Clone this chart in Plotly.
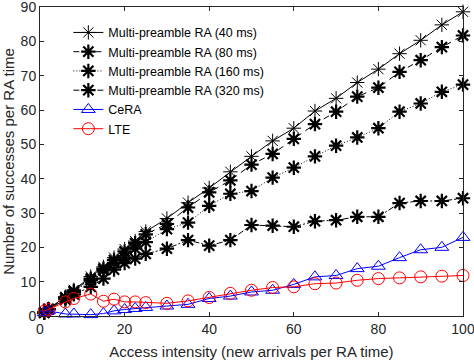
import plotly.graph_objects as go

x = [1, 2, 6, 8, 12, 15, 17.5, 20, 22.5, 25, 30, 35, 40, 45, 50, 55, 60, 65, 70, 75, 80, 85, 90, 95, 100]

ms40 = [1.0, 2.1, 5.6, 7.6, 11.5, 14.3, 17.0, 19.5, 21.8, 24.6, 28.4, 33.0, 37.3, 42.0, 46.5, 51.0, 54.7, 59.7, 63.4, 68.0, 71.9, 76.4, 80.3, 84.8, 88.6]
ms80 = [1.0, 2.0, 5.4, 7.3, 10.9, 13.8, 16.3, 18.8, 21.2, 23.8, 26.8, 31.6, 36.0, 39.5, 44.1, 47.2, 51.6, 55.9, 59.5, 63.9, 66.5, 71.1, 74.5, 78.3, 81.7]
ms160 = [1.0, 2.0, 5.2, 7.0, 10.4, 13.3, 15.4, 17.1, 19.6, 21.5, 25.3, 27.2, 32.1, 35.6, 36.4, 40.3, 43.2, 46.5, 49.6, 52.0, 54.7, 59.5, 61.9, 65.3, 67.4]
ms320 = [1.0, 1.9, 4.8, 6.3, 8.5, 10.9, 13.5, 15.4, 16.7, 18.1, 19.6, 22.1, 20.5, 22.1, 26.5, 26.3, 26.0, 27.6, 27.9, 28.9, 28.9, 32.9, 33.5, 33.5, 34.3]
cera = [1.0, 1.5, 0.6, 0.6, 0.4, 0.7, 1.5, 1.9, 2.2, 2.5, 2.9, 3.4, 5.1, 5.8, 7.0, 7.5, 9.2, 11.4, 11.8, 13.8, 14.5, 17.0, 19.3, 20.0, 22.9]
lte = [1.4, 1.9, 4.1, 5.1, 6.4, 4.3, 4.9, 4.1, 4.1, 3.9, 3.7, 4.4, 5.4, 6.6, 7.5, 8.3, 8.5, 9.4, 9.6, 10.4, 10.9, 11.1, 11.4, 11.6, 11.8]

names = ["Multi-preamble RA (40 ms)", "Multi-preamble RA (80 ms)",
         "Multi-preamble RA (160 ms)", "Multi-preamble RA (320 ms)", "CeRA", "LTE"]

x_ticks = [0, 20, 40, 60, 80, 100]
y_ticks = [0, 10, 20, 30, 40, 50, 60, 70, 80, 90]

fig = go.Figure()

star_specs = [
    (ms40, "solid", 1.0),
    (ms80, "6px,5px", 2.2),
    (ms160, "1px,2px", 2.2),
    (ms320, "6px,2px,2px,2px", 2.2),
]
for (vals, dash, mlw), nm in zip(star_specs, names[:4]):
    fig.add_trace(go.Scatter(
        x=x, y=vals, name=nm, mode="lines+markers", cliponaxis=False,
        line=dict(color="black", width=1, dash=dash),
        marker=dict(symbol="asterisk-open", size=12, color="black",
                    line=dict(color="black", width=mlw)),
    ))

fig.add_trace(go.Scatter(
    x=x, y=cera, name=names[4], mode="lines+markers", cliponaxis=False,
    line=dict(color="#0000ff", width=1),
    marker=dict(symbol="triangle-up-open", size=12, color="#0000ff",
                line=dict(color="#0000ff", width=1)),
))
fig.add_trace(go.Scatter(
    x=x, y=lte, name=names[5], mode="lines+markers", cliponaxis=False,
    line=dict(color="#ff0000", width=1),
    marker=dict(symbol="circle-open", size=12, color="#ff0000",
                line=dict(color="#ff0000", width=1)),
))

axis_common = dict(
    showline=True, linecolor="#262626", linewidth=1, mirror="ticks",
    ticks="inside", ticklen=4, tickcolor="#262626", tickwidth=1,
    showgrid=False, zeroline=False, automargin=False,
    ticklabeloverflow="allow",
    tickfont=dict(family="Liberation Sans, Arial", size=14, color="#262626"),
)

fig.update_layout(
    width=474, height=361,
    margin=dict(l=39.5, r=11, t=7, b=45),
    paper_bgcolor="white", plot_bgcolor="white",
    font=dict(family="Liberation Sans, Arial", color="#262626"),
    xaxis=dict(range=[0, 100], tickvals=x_ticks,
               title=dict(text="Access intensity (new arrivals per RA time)",
                          font=dict(size=15, color="#262626"), standoff=10),
               **axis_common),
    yaxis=dict(range=[0, 90], tickvals=y_ticks,
               title=dict(text="Number of successes per RA time",
                          font=dict(size=15, color="#262626"), standoff=7),
               **axis_common),
    legend=dict(x=0.067, y=0.965, xanchor="left", yanchor="top",
                bgcolor="rgba(0,0,0,0)", borderwidth=0,
                font=dict(family="Liberation Sans, Arial", size=12.5, color="black"),
                tracegroupgap=0),
    showlegend=True,
)

fig.write_html("out.html", config={"displayModeBar": False},
               post_script="document.body.style.margin='0px';")
